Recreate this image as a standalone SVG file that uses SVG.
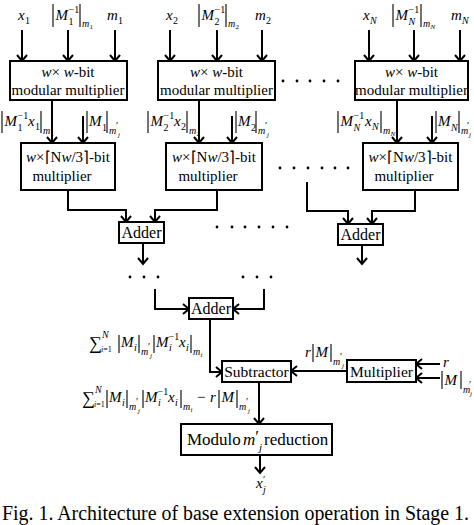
<svg xmlns="http://www.w3.org/2000/svg" width="474" height="525" viewBox="0 0 474 525">
<defs>
<marker id="ah" markerUnits="userSpaceOnUse" markerWidth="16" markerHeight="16" viewBox="-8 -8 10 16" refX="0" refY="0" orient="auto"><path d="M-6,-5 L0,0 L-6,5" fill="none" stroke="#000" stroke-width="2"/></marker>
<style>
text{font-family:"Liberation Serif","Times New Roman",serif;fill:#000}
.t{font-size:15px}
.bt{font-family:"Liberation Serif","Times New Roman",serif;font-size:15px;text-anchor:middle}
.ad{font-family:"Liberation Serif","Times New Roman",serif;font-size:16px;text-anchor:middle}
.i{font-style:italic}
.s{font-size:10px}
.xs{font-size:7px}
.box{fill:#fff;stroke:#000;stroke-width:2}
.c{fill:none;stroke:#000;stroke-width:2}
.ca{fill:none;stroke:#000;stroke-width:2;marker-end:url(#ah)}
.bar{stroke:#000;stroke-width:1.1}
.dot{fill:#000}
</style>
</defs>
<rect width="474" height="525" fill="#fff"/>

<g id="connectors">
<line class="ca" x1="22" y1="30" x2="22" y2="61"/>
<line class="ca" x1="68" y1="30" x2="68" y2="61"/>
<line class="ca" x1="115" y1="30" x2="115" y2="61"/>
<line class="ca" x1="170" y1="30" x2="170" y2="61"/>
<line class="ca" x1="217" y1="30" x2="217" y2="61"/>
<line class="ca" x1="262" y1="30" x2="262" y2="61"/>
<line class="ca" x1="369" y1="30" x2="369" y2="61"/>
<line class="ca" x1="414" y1="30" x2="414" y2="61"/>
<line class="ca" x1="460" y1="30" x2="460" y2="61"/>
<line class="ca" x1="52" y1="100" x2="52" y2="143"/>
<line class="ca" x1="199" y1="100" x2="199" y2="143"/>
<line class="ca" x1="397" y1="100" x2="397" y2="143"/>
<line class="ca" x1="83" y1="116" x2="83" y2="143"/>
<line class="ca" x1="232" y1="116" x2="232" y2="143"/>
<line class="ca" x1="432" y1="116" x2="432" y2="143"/>
<polyline class="ca" points="68,190 68,210 126,210 126,222"/>
<polyline class="ca" points="217,190 217,210 155,210 155,222"/>
<line class="ca" x1="143" y1="243" x2="143" y2="264"/>
<polyline class="ca" points="307,182 307,211 348,211 348,224"/>
<polyline class="ca" points="415,190 415,211 372,211 372,224"/>
<line class="ca" x1="362" y1="245" x2="362" y2="264"/>
<polyline class="ca" points="155,289 155,309 189,309"/>
<polyline class="ca" points="264,289 264,309 233,309"/>
<polyline class="ca" points="210,319 210,372 222,372"/>
<line class="ca" x1="347" y1="371" x2="291" y2="371"/>
<line class="ca" x1="440" y1="364" x2="416" y2="364"/>
<line class="ca" x1="440" y1="378" x2="416" y2="378"/>
<line class="ca" x1="259" y1="382" x2="259" y2="424"/>
<line class="ca" x1="260" y1="455" x2="260" y2="473"/>
</g>

<g id="mm1"><rect class="box" x="10" y="61" width="117" height="39"/>
<text class="bt" x="68" y="77"><tspan class="i">w</tspan>× <tspan class="i">w</tspan>-bit</text>
<text class="bt" x="68" y="95">modular multiplier</text></g>
<g id="mm2"><rect class="box" x="158" y="61" width="117" height="39"/>
<text class="bt" x="216.5" y="77"><tspan class="i">w</tspan>× <tspan class="i">w</tspan>-bit</text>
<text class="bt" x="216.5" y="95">modular multiplier</text></g>
<g id="mmN"><rect class="box" x="355" y="61" width="113" height="39"/>
<text class="bt" x="411.5" y="77"><tspan class="i">w</tspan>× <tspan class="i">w</tspan>-bit</text>
<text class="bt" x="411.5" y="95">modular multiplier</text></g>

<g id="mul1"><rect class="box" x="21" y="143" width="94" height="47"/>
<text class="bt" x="68" y="162"><tspan class="i">w</tspan>×⌈N<tspan class="i">w</tspan>/3⌉-bit</text>
<text class="bt" x="62" y="181">multiplier</text></g>
<g id="mul2"><rect class="box" x="166" y="143" width="96" height="47"/>
<text class="bt" x="214" y="162"><tspan class="i">w</tspan>×⌈N<tspan class="i">w</tspan>/3⌉-bit</text>
<text class="bt" x="208" y="181">multiplier</text></g>
<g id="mulN"><rect class="box" x="363" y="143" width="95" height="47"/>
<text class="bt" x="410.5" y="162"><tspan class="i">w</tspan>×⌈N<tspan class="i">w</tspan>/3⌉-bit</text>
<text class="bt" x="404" y="181">multiplier</text></g>

<g id="adder1"><rect class="box" x="119" y="222" width="45" height="21"/><text class="ad" x="141.5" y="238">Adder</text></g>
<g id="adderN"><rect class="box" x="338" y="224" width="45" height="21"/><text class="ad" x="360.5" y="240">Adder</text></g>
<g id="adder2"><rect class="box" x="189" y="298" width="44" height="21"/><text class="ad" x="211" y="314">Adder</text></g>
<g id="subtractor"><rect class="box" x="222" y="361" width="69" height="21"/><text class="ad" x="256.5" y="377" style="font-size:15.5px">Subtractor</text></g>
<g id="multiplier"><rect class="box" x="347" y="360" width="69" height="22"/><text class="ad" x="381.5" y="377" style="font-size:15.5px">Multiplier</text></g>
<g id="modulo"><rect class="box" x="181" y="424" width="151" height="31"/>
<text style="font-size:17px" x="187" y="445">Modulo</text>
<text style="font-size:17px" x="243" y="445"><tspan class="i">m</tspan><tspan dy="-3">′</tspan></text>
<text style="font-size:11px" class="i" x="259" y="451">j</text>
<text style="font-size:17px" x="264" y="445">reduction</text></g>

<g id="dots">
<circle class="dot" cx="283" cy="81" r="1.4"/><circle class="dot" cx="297" cy="81" r="1.4"/><circle class="dot" cx="310" cy="81" r="1.4"/><circle class="dot" cx="324" cy="81" r="1.4"/><circle class="dot" cx="338" cy="81" r="1.4"/>
<circle class="dot" cx="280" cy="168" r="1.4"/><circle class="dot" cx="294" cy="168" r="1.4"/><circle class="dot" cx="308" cy="168" r="1.4"/><circle class="dot" cx="322" cy="168" r="1.4"/><circle class="dot" cx="335" cy="168" r="1.4"/><circle class="dot" cx="348" cy="168" r="1.4"/>
<circle class="dot" cx="217" cy="227" r="1.4"/><circle class="dot" cx="232" cy="227" r="1.4"/><circle class="dot" cx="245" cy="227" r="1.4"/><circle class="dot" cx="259" cy="227" r="1.4"/><circle class="dot" cx="273" cy="227" r="1.4"/><circle class="dot" cx="287" cy="227" r="1.4"/>
<circle class="dot" cx="130" cy="277" r="1.4"/><circle class="dot" cx="144" cy="277" r="1.4"/><circle class="dot" cx="158" cy="277" r="1.4"/>
<circle class="dot" cx="243" cy="277" r="1.4"/><circle class="dot" cx="257" cy="277" r="1.4"/><circle class="dot" cx="271" cy="277" r="1.4"/>
</g>

<g id="labels">
<text class="t i" x="18" y="20">x</text><text class="s" x="25" y="24">1</text>
<line class="bar" x1="53" y1="4" x2="53" y2="27"/><line class="bar" x1="80" y1="4" x2="80" y2="27"/>
<text class="t i" x="55.5" y="20">M</text><text class="s" x="68.5" y="13">−1</text><text class="s" x="68.5" y="25">1</text>
<text class="s i" x="82" y="27">m</text><text class="xs" x="89.5" y="29">1</text>
<text class="t i" x="107" y="20">m</text><text class="s" x="118" y="24">1</text>
<text class="t i" x="166" y="20">x</text><text class="s" x="173" y="24">2</text>
<line class="bar" x1="199" y1="4" x2="199" y2="27"/><line class="bar" x1="226" y1="4" x2="226" y2="27"/>
<text class="t i" x="201.5" y="20">M</text><text class="s" x="214.5" y="13">−1</text><text class="s" x="214.5" y="25">2</text>
<text class="s i" x="228" y="27">m</text><text class="xs" x="235.5" y="29">2</text>
<text class="t i" x="255" y="20">m</text><text class="s" x="266" y="24">2</text>
<text class="t i" x="363" y="20">x</text><text class="s i" x="370" y="24">N</text>
<line class="bar" x1="393" y1="4" x2="393" y2="27"/><line class="bar" x1="421" y1="4" x2="421" y2="27"/>
<text class="t i" x="395.5" y="20">M</text><text class="s" x="408.5" y="13">−1</text><text class="s i" x="408.5" y="25">N</text>
<text class="s i" x="423" y="27">m</text><text class="xs i" x="430.5" y="29">N</text>
<text class="t i" x="451" y="20">m</text><text class="s i" x="462" y="24">N</text>

<line class="bar" x1="2" y1="111" x2="2" y2="133"/><line class="bar" x1="41" y1="111" x2="41" y2="133"/>
<text class="t i" x="4.5" y="126">M</text><text class="s" x="17.5" y="119">−1</text><text class="s" x="17.5" y="131">1</text>
<text class="t i" x="28" y="126">x</text><text class="s" x="35" y="130">1</text>
<text class="s i" x="43" y="134">m</text><text class="xs" x="50.5" y="136">1</text>
<line class="bar" x1="87" y1="111" x2="87" y2="133"/><line class="bar" x1="107" y1="111" x2="107" y2="133"/>
<text class="t i" x="89" y="126">M</text><text class="s" x="102" y="131">1</text>
<text class="s i" x="109" y="134">m</text><text class="s" x="116" y="129">′</text><text class="xs i" x="118" y="137">j</text>
<line class="bar" x1="148" y1="111" x2="148" y2="133"/><line class="bar" x1="187" y1="111" x2="187" y2="133"/>
<text class="t i" x="150.5" y="126">M</text><text class="s" x="163.5" y="119">−1</text><text class="s" x="163.5" y="131">2</text>
<text class="t i" x="174" y="126">x</text><text class="s" x="181" y="130">2</text>
<text class="s i" x="189" y="134">m</text><text class="xs" x="196.5" y="136">2</text>
<line class="bar" x1="236" y1="111" x2="236" y2="133"/><line class="bar" x1="256" y1="111" x2="256" y2="133"/>
<text class="t i" x="238" y="126">M</text><text class="s" x="251" y="131">2</text>
<text class="s i" x="258" y="134">m</text><text class="s" x="265" y="129">′</text><text class="xs i" x="267" y="137">j</text>
<line class="bar" x1="338" y1="111" x2="338" y2="133"/><line class="bar" x1="381" y1="111" x2="381" y2="133"/>
<text class="t i" x="340.5" y="126">M</text><text class="s" x="353.5" y="119">−1</text><text class="s i" x="353.5" y="131">N</text>
<text class="t i" x="365" y="126">x</text><text class="s i" x="372" y="130">N</text>
<text class="s i" x="383" y="134">m</text><text class="xs i" x="390.5" y="136">N</text>
<line class="bar" x1="436" y1="111" x2="436" y2="133"/><line class="bar" x1="459" y1="111" x2="459" y2="133"/>
<text class="t i" x="438" y="126">M</text><text class="s i" x="451" y="131">N</text>
<text class="s i" x="461" y="134">m</text><text class="s" x="467" y="129">′</text><text class="xs i" x="469" y="137">j</text>

<text style="font-size:18px" x="89" y="349">∑</text>
<text class="s i" x="102" y="338">N</text>
<text style="font-size:8px" x="101" y="352"><tspan class="i">i</tspan>=1</text>
<line class="bar" x1="119" y1="335" x2="119" y2="353"/><line class="bar" x1="139" y1="335" x2="139" y2="353"/>
<text class="t i" x="121" y="347">M</text><text class="s i" x="134" y="351">i</text>
<text class="s i" x="141" y="355">m</text><text class="s" x="148" y="350">′</text><text class="xs i" x="150" y="358">j</text>
<line class="bar" x1="154" y1="335" x2="154" y2="353"/><line class="bar" x1="191" y1="335" x2="191" y2="353"/>
<text class="t i" x="156" y="347">M</text><text class="s" x="168.5" y="340">−1</text><text class="s i" x="169" y="351">i</text>
<text class="t i" x="179" y="347">x</text><text class="s i" x="186" y="351">i</text>
<text class="s i" x="193" y="355">m</text><text class="xs i" x="200.5" y="357">i</text>

<text style="font-size:18px" x="82" y="404">∑</text>
<text class="s i" x="95" y="393">N</text>
<text style="font-size:8px" x="94" y="407"><tspan class="i">i</tspan>=1</text>
<line class="bar" x1="107" y1="390" x2="107" y2="408"/><line class="bar" x1="127" y1="390" x2="127" y2="408"/>
<text class="t i" x="109" y="402">M</text><text class="s i" x="122" y="406">i</text>
<text class="s i" x="129" y="410">m</text><text class="s" x="136" y="405">′</text><text class="xs i" x="138" y="413">j</text>
<line class="bar" x1="143" y1="390" x2="143" y2="408"/><line class="bar" x1="181" y1="390" x2="181" y2="408"/>
<text class="t i" x="145" y="402">M</text><text class="s" x="157.5" y="395">−1</text><text class="s i" x="158" y="406">i</text>
<text class="t i" x="168" y="402">x</text><text class="s i" x="175" y="406">i</text>
<text class="s i" x="183" y="410">m</text><text class="xs i" x="190.5" y="412">i</text>
<text class="t" x="197" y="402">−</text>
<text class="t i" x="210" y="402">r</text>
<line class="bar" x1="219" y1="390" x2="219" y2="408"/><line class="bar" x1="237" y1="390" x2="237" y2="408"/>
<text class="t i" x="221.5" y="402">M</text>
<text class="s i" x="239" y="410">m</text><text class="s" x="246" y="405">′</text><text class="xs i" x="248" y="413">j</text>

<text class="t i" x="305" y="357">r</text>
<line class="bar" x1="313" y1="344" x2="313" y2="362"/><line class="bar" x1="331" y1="344" x2="331" y2="362"/>
<text class="t i" x="315.5" y="357">M</text>
<text class="s i" x="333" y="365">m</text><text class="s" x="340" y="360">′</text><text class="xs i" x="342" y="368">j</text>

<text class="t i" x="443" y="367">r</text>
<line class="bar" x1="442" y1="371" x2="442" y2="389"/><line class="bar" x1="461" y1="371" x2="461" y2="389"/>
<text class="t i" x="444.5" y="385">M</text>
<text class="s i" x="463" y="393">m</text><text class="s" x="469" y="388">′</text><text class="xs i" x="470" y="396">j</text>

<text class="t i" x="256" y="488">x</text><text class="s" x="263" y="483">′</text><text class="s i" x="263" y="493">j</text>

<text x="2" y="520" style="font-size:20px" textLength="467" lengthAdjust="spacingAndGlyphs">Fig. 1. Architecture of base extension operation in Stage 1.</text>
</g>
</svg>
